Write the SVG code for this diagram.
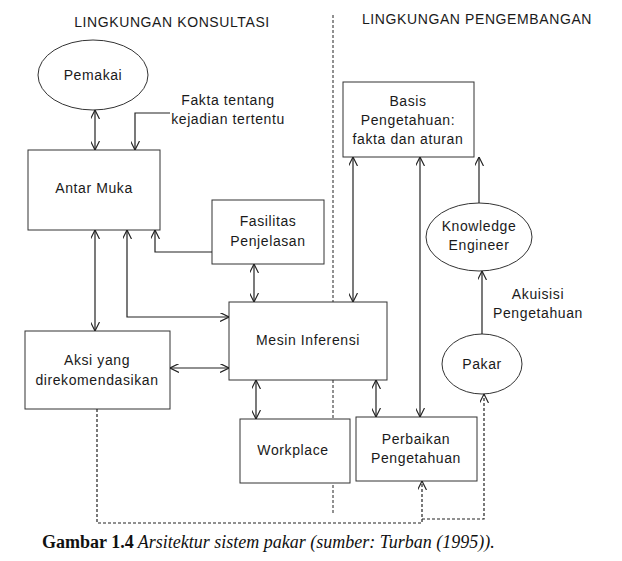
<svg xmlns="http://www.w3.org/2000/svg" width="622" height="561" viewBox="0 0 622 561">
<defs>
<marker id="a" viewBox="0 0 10 10" refX="10" refY="5" markerWidth="9" markerHeight="9" orient="auto-start-reverse" markerUnits="userSpaceOnUse"><path d="M0,0 L10,5 L0,10" fill="none" stroke="#222" stroke-width="1.3"/></marker>
</defs>
<style>
.b{fill:#fff;stroke:#333;stroke-width:1}
.t{font-family:"Liberation Sans",Arial,sans-serif;font-size:14px;letter-spacing:0.6px;fill:#1a1a1a;text-anchor:middle}
.c path{fill:none;stroke:#222;stroke-width:1.2}
.d{stroke-dasharray:3,2}
</style>
<rect width="622" height="561" fill="#fff"/>
<text class="t" x="172" y="27">LINGKUNGAN KONSULTASI</text>
<text class="t" x="477" y="24">LINGKUNGAN PENGEMBANGAN</text>
<path d="M333,15 V515" stroke="#222" stroke-width="1" stroke-dasharray="3,2" fill="none"/>
<g id="pemakai"><ellipse class="b" cx="93" cy="75" rx="55" ry="35"/><text class="t" x="93" y="80">Pemakai</text></g>
<g id="fakta"><text class="t" x="228" y="105">Fakta tentang</text><text class="t" x="228" y="124">kejadian tertentu</text></g>
<g id="antarmuka"><rect class="b" x="28" y="150" width="132" height="80"/><text class="t" x="94" y="193">Antar Muka</text></g>
<g id="fasilitas"><rect class="b" x="212" y="200" width="112" height="64"/><text class="t" x="268" y="226">Fasilitas</text><text class="t" x="268" y="246">Penjelasan</text></g>
<g id="mesin"><rect class="b" x="229" y="302" width="158" height="78"/><text class="t" x="308" y="345">Mesin Inferensi</text></g>
<g id="aksi"><rect class="b" x="25" y="331" width="145" height="78"/><text class="t" x="97" y="365">Aksi yang</text><text class="t" x="97" y="385">direkomendasikan</text></g>
<g id="workplace"><rect class="b" x="240" y="419" width="110" height="64"/><text class="t" x="293" y="455">Workplace</text></g>
<g id="perbaikan"><rect class="b" x="356" y="417" width="121" height="64"/><text class="t" x="416" y="444">Perbaikan</text><text class="t" x="416" y="463">Pengetahuan</text></g>
<g id="basis"><rect class="b" x="343" y="82" width="131" height="75"/><text class="t" x="408" y="106">Basis</text><text class="t" x="408" y="125">Pengetahuan:</text><text class="t" x="408" y="144">fakta dan aturan</text></g>
<g id="ke"><ellipse class="b" cx="479" cy="237" rx="53" ry="34"/><text class="t" x="479" y="231">Knowledge</text><text class="t" x="479" y="250">Engineer</text></g>
<g id="pakar"><ellipse class="b" cx="482" cy="364" rx="40" ry="30"/><text class="t" x="482" y="369">Pakar</text></g>
<g id="akuisisi"><text class="t" x="538" y="299">Akuisisi</text><text class="t" x="538" y="318">Pengetahuan</text></g>
<g id="connectors" class="c">
<path d="M95,110 V150" marker-start="url(#a)" marker-end="url(#a)"/>
<path d="M170,113 H135 V150" marker-end="url(#a)"/>
<path d="M95,230 V331" marker-start="url(#a)" marker-end="url(#a)"/>
<path d="M127,230 V317 H229" marker-start="url(#a)" marker-end="url(#a)"/>
<path d="M212,252 H155 V230" marker-end="url(#a)"/>
<path d="M254,264 V302" marker-start="url(#a)" marker-end="url(#a)"/>
<path d="M170,368 H229" marker-start="url(#a)" marker-end="url(#a)"/>
<path d="M256,380 V419" marker-start="url(#a)" marker-end="url(#a)"/>
<path d="M376,380 V417" marker-start="url(#a)" marker-end="url(#a)"/>
<path d="M353,157 V302" marker-start="url(#a)" marker-end="url(#a)"/>
<path d="M420,157 V417" stroke-width="0.9" marker-start="url(#a)" marker-end="url(#a)"/>
<path d="M479,203 V157" marker-end="url(#a)"/>
<path d="M482,334 V271" marker-end="url(#a)"/>
<path class="d" d="M97,409 V523 H422 V481" marker-end="url(#a)"/>
<path class="d" d="M422,519 H484 V394" marker-end="url(#a)"/>
</g>
<text x="42" y="548" style="font-family:'Liberation Serif',serif;font-size:18px;fill:#111"><tspan font-weight="bold">Gambar 1.4</tspan><tspan font-style="italic"> Arsitektur sistem pakar (sumber: Turban (1995)).</tspan></text>
</svg>
